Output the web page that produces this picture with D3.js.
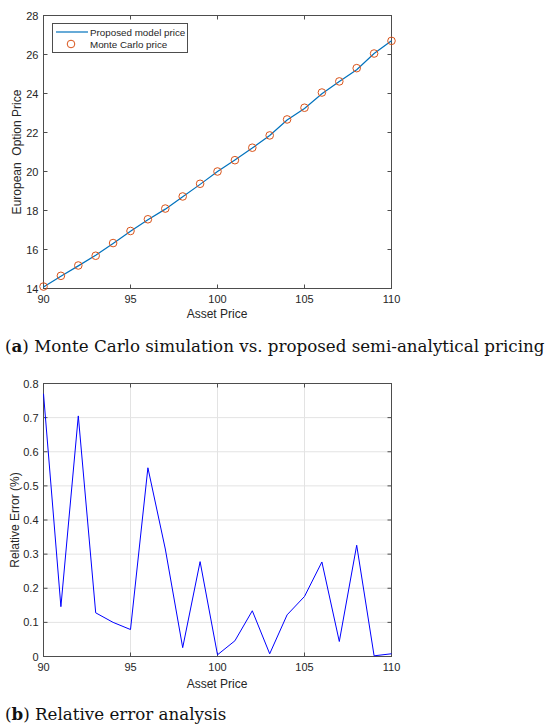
<!DOCTYPE html>
<html>
<head>
<meta charset="utf-8">
<script src="https://cdn.jsdelivr.net/npm/d3@7"></script>
<style>
  body { margin: 0; background: #fff; }
  svg text { font-family: "Liberation Sans", Arial, sans-serif; fill: #262626; }
  svg text.cap { font-family: "DejaVu Serif", serif; fill: #111; }
</style>
</head>
<body>
<svg id="fig" width="550" height="727"></svg>
<script>
// asset prices on the x axis
var assetPrices = [90,91,92,93,94,95,96,97,98,99,100,101,102,103,104,105,106,107,108,109,110];
// Monte Carlo price (circles)
var mcPrice = [14.10,14.65,15.18,15.68,16.33,16.95,17.55,18.10,18.72,19.37,20.00,20.58,21.22,21.85,22.67,23.27,24.05,24.62,25.30,26.05,26.70];
// proposed model price (line)
var modelPrice = [14.08,14.63,15.16,15.70,16.31,16.94,17.52,18.07,18.71,19.34,20.00,20.59,21.20,21.85,22.64,23.23,23.99,24.61,25.22,26.05,26.70];
// relative error in percent
var relError = [0.770,0.146,0.705,0.128,0.100,0.079,0.553,0.315,0.026,0.278,0.005,0.046,0.134,0.008,0.122,0.176,0.277,0.044,0.326,0.002,0.008];

var xTicks = [90,95,100,105,110];
var yTicksTop = [14,16,18,20,22,24,26,28];
var yTicksBot = [0,0.1,0.2,0.3,0.4,0.5,0.6,0.7,0.8];

var svg = d3.select("#fig");
var axisColor = "#4d4d4d";
var tickLen = 4;

function drawFrame(g, x, y, yTicks, yFmt, grid) {
	var x0 = x.range()[0], x1 = x.range()[1];
	var y0 = y.range()[0], y1 = y.range()[1];

	if (grid) {
		g.selectAll(".gx").data(xTicks.slice(1, -1)).enter().append("line")
			.attr("x1", x).attr("x2", x).attr("y1", y0).attr("y2", y1)
			.attr("stroke", "#e3e3e3").attr("stroke-width", 1);
		g.selectAll(".gy").data(yTicks.slice(1, -1)).enter().append("line")
			.attr("x1", x0).attr("x2", x1).attr("y1", y).attr("y2", y)
			.attr("stroke", "#e3e3e3").attr("stroke-width", 1);
	}

	// inward ticks on all four sides
	xTicks.forEach(function(t) {
		g.append("line").attr("x1", x(t)).attr("x2", x(t)).attr("y1", y0).attr("y2", y0 - tickLen)
			.attr("stroke", axisColor);
		g.append("line").attr("x1", x(t)).attr("x2", x(t)).attr("y1", y1).attr("y2", y1 + tickLen)
			.attr("stroke", axisColor);
	});
	yTicks.forEach(function(t) {
		g.append("line").attr("x1", x0).attr("x2", x0 + tickLen).attr("y1", y(t)).attr("y2", y(t))
			.attr("stroke", axisColor);
		g.append("line").attr("x1", x1).attr("x2", x1 - tickLen).attr("y1", y(t)).attr("y2", y(t))
			.attr("stroke", axisColor);
	});

	g.append("rect")
		.attr("x", x0).attr("y", y1)
		.attr("width", x1 - x0).attr("height", y0 - y1)
		.attr("fill", "none").attr("stroke", axisColor).attr("stroke-width", 1);

	g.selectAll(".xl").data(xTicks).enter().append("text")
		.attr("x", x).attr("y", y0 + 14)
		.attr("text-anchor", "middle").attr("font-size", "11px")
		.text(function(d) { return d; });
	g.selectAll(".yl").data(yTicks).enter().append("text")
		.attr("x", x0 - 5).attr("y", function(d) { return y(d) + 4; })
		.attr("text-anchor", "end").attr("font-size", "11px")
		.text(yFmt);
}

// ---- top panel
var xTop = d3.scaleLinear().domain([90, 110]).range([43.5, 391.5]);
var yTop = d3.scaleLinear().domain([14, 28]).range([288.5, 15.5]);
var gTop = svg.append("g");
drawFrame(gTop, xTop, yTop, yTicksTop, function(d) { return d; }, false);

var lineTop = d3.line()
	.x(function(d, i) { return xTop(assetPrices[i]); })
	.y(function(d) { return yTop(d); });
gTop.append("path").datum(modelPrice)
	.attr("d", lineTop).attr("fill", "none")
	.attr("stroke", "#0072BD").attr("stroke-width", 1.2);
gTop.selectAll(".mc").data(mcPrice).enter().append("circle")
	.attr("cx", function(d, i) { return xTop(assetPrices[i]); })
	.attr("cy", function(d) { return yTop(d); })
	.attr("r", 3.8).attr("fill", "none")
	.attr("stroke", "#D95319").attr("stroke-width", 1);

gTop.append("text").attr("x", 217).attr("y", 318)
	.attr("text-anchor", "middle").attr("font-size", "12px").text("Asset Price");
gTop.append("text").attr("transform", "translate(21,152) rotate(-90)")
	.attr("text-anchor", "middle").attr("font-size", "12px")
	.attr("xml:space", "preserve").text("European  Option Price");

// legend
var leg = gTop.append("g");
leg.append("rect").attr("x", 52.5).attr("y", 23.5).attr("width", 135).attr("height", 29)
	.attr("fill", "#fff").attr("stroke", axisColor);
leg.append("line").attr("x1", 56).attr("x2", 88).attr("y1", 32).attr("y2", 32)
	.attr("stroke", "#0072BD").attr("stroke-width", 1.2);
leg.append("circle").attr("cx", 71).attr("cy", 44).attr("r", 3.8)
	.attr("fill", "none").attr("stroke", "#D95319");
leg.append("text").attr("x", 90).attr("y", 35.5).attr("font-size", "9.8px").text("Proposed model price");
leg.append("text").attr("x", 90).attr("y", 47.5).attr("font-size", "9.8px").text("Monte Carlo price");

// caption (a)
var capA = svg.append("text").attr("class", "cap").attr("x", 5).attr("y", 352).attr("font-size", "16.7px");
capA.append("tspan").text("(");
capA.append("tspan").attr("font-weight", "bold").text("a");
capA.append("tspan").text(") Monte Carlo simulation vs. proposed semi-analytical pricing");

// ---- bottom panel
var xBot = d3.scaleLinear().domain([90, 110]).range([43.5, 391.5]);
var yBot = d3.scaleLinear().domain([0, 0.8]).range([656.5, 383.5]);
var gBot = svg.append("g");
drawFrame(gBot, xBot, yBot, yTicksBot, function(d) { return d === 0 ? "0" : d3.format(".1f")(d); }, true);

var lineBot = d3.line()
	.x(function(d, i) { return xBot(assetPrices[i]); })
	.y(function(d) { return yBot(d); });
gBot.append("path").datum(relError)
	.attr("d", lineBot).attr("fill", "none")
	.attr("stroke", "#0000FF").attr("stroke-width", 1);

gBot.append("text").attr("x", 217).attr("y", 688)
	.attr("text-anchor", "middle").attr("font-size", "12px").text("Asset Price");
gBot.append("text").attr("transform", "translate(19,520) rotate(-90)")
	.attr("text-anchor", "middle").attr("font-size", "12px").text("Relative Error (%)");

var capB = svg.append("text").attr("class", "cap").attr("x", 5).attr("y", 720).attr("font-size", "16.7px");
capB.append("tspan").text("(");
capB.append("tspan").attr("font-weight", "bold").text("b");
capB.append("tspan").text(") Relative error analysis");
</script>
</body>
</html>
